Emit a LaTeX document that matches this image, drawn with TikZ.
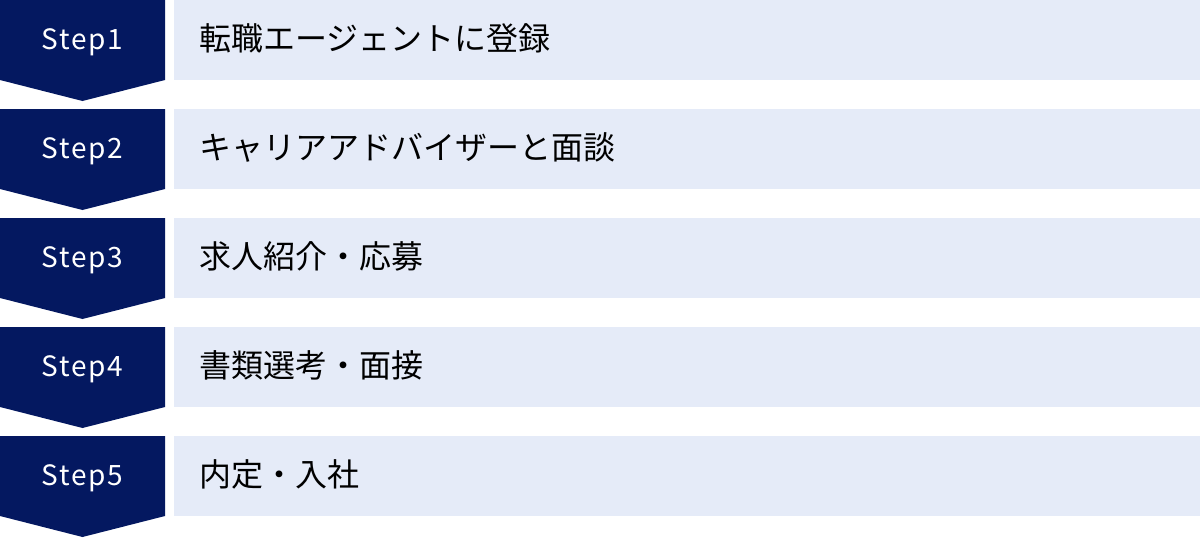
\documentclass[tikz,border=0pt]{standalone}
\usepackage{fontspec}
\setmainfont{Noto Sans CJK JP}
\newfontfamily\stepfont[LetterSpace=6]{Noto Sans CJK JP}
\definecolor{stepnavy}{RGB}{4,24,96}
\definecolor{barblue}{RGB}{229,235,248}

\begin{document}
\begin{tikzpicture}[x=1pt,y=-1pt,
    snode/.style={text=white,anchor=base,inner sep=0pt,font=\stepfont\fontsize{28}{28}\selectfont},
    bnode/.style={fill=barblue,anchor=north west,minimum width=1026pt,minimum height=80pt,inner sep=0pt},
    tnode/.style={anchor=base west,inner sep=0pt,font=\fontsize{32}{32}\selectfont},
    chev/.style={fill=stepnavy}]
    \useasboundingbox (0,0) rectangle (1200,538);

    % chevrons
    \fill[chev] (0,0) -- (165,0) -- (165,80) -- (82.5,101) -- (0,80) -- cycle;
    \fill[chev] (0,109) -- (165,109) -- (165,189) -- (82.5,210) -- (0,189) -- cycle;
    \fill[chev] (0,218) -- (165,218) -- (165,298) -- (82.5,319) -- (0,298) -- cycle;
    \fill[chev] (0,327) -- (165,327) -- (165,407) -- (82.5,428) -- (0,407) -- cycle;
    \fill[chev] (0,436) -- (165,436) -- (165,516) -- (82.5,537) -- (0,516) -- cycle;

    \node[snode] (s1) at (82.5,49.5) {Step1};
    \node[snode] (s2) at (82.5,158.5) {Step2};
    \node[snode] (s3) at (82.5,267.5) {Step3};
    \node[snode] (s4) at (82.5,376.5) {Step4};
    \node[snode] (s5) at (82.5,485.5) {Step5};

    \node[bnode] (b1) at (174,0) {};
    \node[bnode] (b2) at (174,109) {};
    \node[bnode] (b3) at (174,218) {};
    \node[bnode] (b4) at (174,327) {};
    \node[bnode] (b5) at (174,436) {};

    \node[tnode] (t1) at (199,50) {転職エージェントに登録};
    \node[tnode] (t2) at (199,159) {キャリアアドバイザーと面談};
    \node[tnode] (t3) at (199,268) {求人紹介・応募};
    \node[tnode] (t4) at (199,377) {書類選考・面接};
    \node[tnode] (t5) at (199,486) {内定・入社};
\end{tikzpicture}
\end{document}
